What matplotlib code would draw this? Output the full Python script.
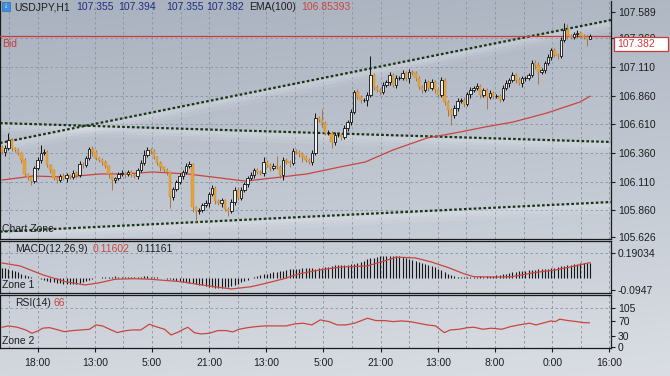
import matplotlib.pyplot as plt
import matplotlib.transforms as mtransforms
from matplotlib.patches import Rectangle
import numpy as np

plt.rcParams['font.family'] = ['Liberation Sans', 'DejaVu Sans']

# ---- data ----
first_open = 106.41
closes = [
    106.367, 106.402, 106.472, 106.402, 106.385, 106.359, 106.298, 106.175, 106.149, 106.114,
    106.228, 106.298, 106.359, 106.367, 106.254, 106.210, 106.140, 106.123, 106.158, 106.140,
    106.167, 106.149, 106.184, 106.167, 106.263, 106.254, 106.315, 106.394, 106.367, 106.315,
    106.298, 106.280, 106.245, 106.175, 106.123, 106.140, 106.175, 106.184, 106.175, 106.193,
    106.167, 106.158, 106.210, 106.271, 106.341, 106.385, 106.376, 106.324, 106.271, 106.236,
    106.210, 106.193, 105.975, 106.044, 106.106, 106.158, 106.193, 106.245, 106.263, 105.887,
    105.853, 105.861, 105.905, 105.922, 106.001, 106.053, 105.940, 105.922, 105.949, 105.870,
    105.853, 105.931, 106.036, 105.966, 106.036, 106.088, 106.140, 106.167, 106.210, 106.193,
    106.184, 106.280, 106.254, 106.228, 106.245, 106.236, 106.167, 106.298, 106.280, 106.271,
    106.376, 106.367, 106.350, 106.324, 106.298, 106.280, 106.359, 106.664, 106.647, 106.620,
    106.533, 106.533, 106.455, 106.516, 106.516, 106.498, 106.577, 106.629, 106.716, 106.891,
    106.847, 106.821, 106.821, 106.865, 107.039, 106.935, 106.908, 106.891, 106.952, 106.978,
    107.039, 106.952, 107.013, 107.013, 107.057, 107.013, 107.065, 107.057, 107.013, 106.935,
    106.908, 106.978, 106.926, 106.978, 106.908, 106.865, 106.996, 106.804, 106.734, 106.690,
    106.751, 106.812, 106.821, 106.786, 106.873, 106.908, 106.926, 106.943, 106.865, 106.908,
    106.847, 106.882, 106.856, 106.856, 106.830, 106.926, 106.969, 106.996, 107.039, 106.996,
    106.969, 107.013, 107.013, 107.039, 107.144, 107.126, 107.065, 107.083, 107.144, 107.196,
    107.257, 107.214, 107.205, 107.345, 107.432, 107.380, 107.371, 107.397, 107.406, 107.380,
    107.371, 107.355, 107.382,
]
# wick lengths beyond the body, in hundredths of a yen
wick_up = [
    2, 3, 6, 2, 1, 2, 1, 2, 1, 1,
    2, 3, 7, 3, 2, 1, 1, 2, 2, 3,
    2, 1, 3, 2, 3, 2, 2, 2, 3, 2,
    1, 2, 2, 1, 2, 1, 2, 3, 2, 2,
    2, 2, 2, 3, 4, 3, 2, 2, 1, 2,
    1, 2, 1, 2, 2, 3, 2, 3, 3, 1,
    1, 2, 2, 3, 2, 3, 2, 2, 2, 1,
    2, 3, 3, 2, 3, 2, 2, 3, 2, 2,
    2, 4, 2, 2, 3, 9, 2, 3, 2, 2,
    3, 2, 2, 2, 2, 2, 3, 4, 2, 10,
    2, 3, 2, 3, 2, 2, 3, 2, 3, 2,
    3, 2, 2, 3, 17, 2, 2, 2, 3, 2,
    3, 2, 3, 2, 3, 2, 3, 2, 2, 2,
    2, 3, 2, 3, 2, 2, 3, 2, 2, 2,
    3, 3, 2, 3, 2, 3, 2, 3, 2, 2,
    2, 3, 2, 2, 2, 3, 3, 2, 3, 2,
    3, 2, 2, 2, 3, 3, 3, 2, 2, 3,
    2, 2, 2, 3, 6, 5, 2, 2, 3, 2,
    2, 2, 1.2,
]
wick_dn = [
    2, 3, 2, 3, 2, 2, 3, 2, 3, 3,
    2, 2, 3, 2, 2, 3, 2, 3, 2, 2,
    3, 2, 2, 3, 2, 3, 2, 2, 3, 2,
    2, 3, 2, 3, 9, 3, 2, 2, 3, 2,
    2, 2, 3, 2, 2, 2, 3, 2, 2, 3,
    2, 3, 10, 3, 2, 2, 3, 2, 2, 4,
    10, 3, 2, 2, 3, 2, 3, 2, 3, 2,
    4, 2, 3, 2, 2, 2, 3, 2, 3, 2,
    2, 3, 2, 3, 2, 2, 3, 4, 2, 3,
    2, 2, 3, 4, 2, 2, 3, 2, 2, 3,
    2, 2, 5, 3, 2, 3, 2, 3, 3, 2,
    2, 3, 2, 5, 2, 3, 2, 3, 2, 2,
    3, 2, 3, 2, 2, 3, 4, 2, 3, 2,
    3, 2, 3, 2, 3, 2, 2, 3, 5, 9,
    3, 3, 2, 3, 2, 3, 2, 2, 3, 2,
    10, 2, 3, 2, 3, 2, 2, 3, 2, 3,
    2, 3, 3, 2, 2, 3, 10, 2, 3, 2,
    3, 2, 3, 2, 2, 3, 2, 2, 3, 2,
    2, 6, 0,
]

ema_bar = [0, 9.6, 20, 30.3, 38, 46.7, 57.3, 67.5, 75.2, 83.9, 94.4, 104.6, 112.4,
           121, 131.6, 141.8, 149.5, 158.2, 168.7, 178.9, 182]
ema_val = [106.123, 106.158, 106.149, 106.176, 106.176, 106.193, 106.176, 106.141, 106.114,
           106.141, 106.176, 106.237, 106.280, 106.385, 106.490, 106.542, 106.586, 106.629,
           106.708, 106.804, 106.854]

bid_price = 107.382

# trend lines: price at left edge and at right edge of the chart
trend_left = [106.446, 106.620, 105.673]
trend_right = [107.519, 106.455, 105.931]

macd_hist = [
    0.075, 0.072, 0.065, 0.058, 0.05, 0.04, 0.03, 0.02,
    0.012, 0.006, 0.0, -0.005, -0.01, -0.018,
    -0.024, -0.03, -0.035, -0.04, -0.044, -0.048, -0.05, -0.052, -0.05, -0.046, -0.04,
    -0.034, -0.026, -0.018, -0.012,
    -0.006, -0.002, 0.002, 0.005, 0.006, 0.008, 0.009, 0.008, 0.006, 0.004, 0.003, 0.002,
    0.004, 0.006, 0.008, 0.01, 0.009, 0.008, 0.006,
    0.004, 0.0, -0.004, -0.008, -0.013, -0.018, -0.022,
    -0.026, -0.03, -0.034, -0.038, -0.043, -0.048, -0.053, -0.058, -0.063, -0.068, -0.072,
    -0.076, -0.078, -0.078, -0.075, -0.07, -0.062, -0.054, -0.045,
    -0.035, -0.025, -0.015, -0.006, 0.003,
    0.01, 0.018, 0.025, 0.03, 0.035, 0.04, 0.045, 0.05, 0.055, 0.06, 0.064, 0.068, 0.07,
    0.07, 0.074, 0.071, 0.075, 0.073, 0.07, 0.074, 0.076,
    0.08, 0.085, 0.09, 0.096, 0.095, 0.1, 0.1, 0.098, 0.102, 0.106, 0.11,
    0.12, 0.13, 0.14, 0.148, 0.155, 0.16, 0.164, 0.166,
    0.168, 0.17, 0.167, 0.17, 0.166,
    0.16, 0.152, 0.144, 0.136, 0.128, 0.122, 0.116, 0.108,
    0.1, 0.09, 0.08, 0.07, 0.058, 0.045, 0.032, 0.02,
    0.012, 0.007, 0.005, 0.004, 0.003,
    0.004, 0.005, 0.007, 0.009, 0.008, 0.01, 0.013, 0.016, 0.02, 0.022, 0.026, 0.03, 0.035,
    0.04, 0.044, 0.048, 0.05, 0.054, 0.058, 0.056, 0.06, 0.064, 0.068, 0.066, 0.07, 0.074, 0.078,
    0.082, 0.086, 0.09, 0.094, 0.098, 0.104, 0.108, 0.11, 0.113, 0.11, 0.112,
]
sig_bar = [0, 5.6, 12.7, 19.5, 25.7, 30, 35, 41, 45.8, 55, 63, 71, 77, 81.4, 87, 92, 98.5,
           105, 113, 118.6, 122, 127.9, 133, 138.4, 143, 146, 152.6, 158, 165, 171.5, 177.4, 182]
sig_val = [0.113, 0.09, 0.021, -0.03, -0.056, -0.04, -0.012, -0.008, -0.012, -0.03, -0.06,
           -0.087, -0.07, -0.045, -0.01, 0.03, 0.06, 0.082, 0.09, 0.13, 0.158, 0.152, 0.12,
           0.075, 0.03, 0.008, 0.004, 0.008, 0.04, 0.06, 0.09, 0.116]

rsi_bar = [0, 2.0, 4.7, 7.3, 9.3, 11.3, 12.6, 14.6, 16.6, 19.2, 21.9, 24.5, 27.1, 29.1, 31.1,
           33.8, 35.7, 37.7, 40.4, 43, 45.6, 47.6, 50.3, 52.3, 54.2, 56.2, 57.5, 59.5, 61.5,
           64.2, 66.8, 69.4, 71.4, 73.4, 76.1, 78.7, 81.3, 84, 88, 90.6, 93.2, 95.9, 98.5,
           101.2, 103.8, 106.5, 109.1, 111.8, 113.1, 115.7, 118.4, 121, 123.6, 126.3, 128.9,
           131.6, 134.2, 136.9, 138.8, 141.5, 144.1, 146.1, 148.8, 151.4, 154.7, 157.4, 160,
           163.3, 165.3, 167.3, 169.9, 171.3, 172.6, 175.2, 177.9, 179.9, 181.8]
rsi_val = [54, 57.6, 54, 46.8, 37.8, 45, 51.4, 53, 48.6, 42.2, 45, 46.8, 48.6, 60.3, 57.6,
           46.8, 39.5, 44, 46.8, 46.8, 62.2, 55.7, 48.6, 33.2, 39.5, 48.6, 54, 39.5, 36,
           37.8, 45, 45, 41.4, 48.6, 53, 55.7, 57.6, 57.6, 57.6, 63, 64.9, 60.3, 73.8,
           69.2, 60.3, 60.3, 64.9, 73.8, 78.4, 72, 72, 69.2, 71, 69.2, 64.9,
           60.3, 57.6, 39.5, 46.8, 48.6, 53, 54, 48.6, 51.4, 48.6, 55.7, 60.3,
           64.9, 60.3, 64.9, 71, 69.2, 75.7, 72, 69.2, 66.5, 66]

time_labels = ["18:00", "13:00", "5:00", "21:00", "13:00", "5:00", "21:00", "13:00",
               "8:00", "0:00", "16:00"]
price_ticks = [105.626, 105.86, 106.11, 106.36, 106.61, 106.86, 107.11, 107.36, 107.589]

# ---- figure ----
W, H = 670, 376
fig = plt.figure(figsize=(W / 100, H / 100), dpi=100)


def box(x0, y0, x1, y1):
    return [x0 / W, 1 - y1 / H, (x1 - x0) / W, (y1 - y0) / H]


def ftext(x, y, s, color='#1e1e1e', **kw):
    fig.text(x / W, 1 - y / H, s, color=color, fontsize=7.5, va='center', ha='left', **kw)


# background gradient
bg = fig.add_axes([0, 0, 1, 1], zorder=-10)
gv = np.linspace(0, 1, H)[:, None]
gh = np.linspace(0, 1, W)[None, :]
top = np.array([168, 177, 190]) / 255
bot = np.array([218, 222, 228]) / 255
img = top + (bot - top) * (0.85 * gv + 0.15 * gh)[..., None]
bg.imshow(img, aspect='auto', extent=[0, 1, 0, 1])
bg.axis('off')

ax = fig.add_axes(box(0, 1, 611, 239))
mx = fig.add_axes(box(0, 241, 611, 293))
rx = fig.add_axes(box(0, 295, 611, 348))

xmin, xmax = -0.62, 188.5
xt0, xstep = 11.0, 17.7
grid_kw = dict(color='#8793a3', lw=0.6, ls=(0, (3, 3)), zorder=1)

for a in (ax, mx, rx):
    a.set_facecolor('none')
    a.set_xlim(xmin, xmax)
    for s in a.spines.values():
        s.set_color('#1a1a1a')
        s.set_linewidth(0.9)
    a.yaxis.tick_right()
    a.tick_params(axis='y', direction='out', length=3, width=0.8, pad=2,
                  labelsize=7.5, colors='#1e1e1e')
    a.tick_params(axis='x', bottom=False, labelbottom=False)
    gx = xt0 - xstep / 2
    while gx < xmax:
        a.axvline(gx, **grid_kw)
        gx += xstep / 2
ax.spines['top'].set_visible(False)

# ---- main price panel ----
ax.set_ylim(105.6085, 107.685)
ax.set_yticks(price_ticks)
ax.set_yticklabels([f"{v:.3f}" for v in price_ticks])
for v in price_ticks[1:-1]:
    ax.axhline(v, **grid_kw)

n = len(closes)
x = np.arange(n)
c = np.array(closes)
o = np.concatenate([[first_open], c[:-1]])
hi = np.maximum(o, c) + np.array(wick_up) / 100
lo = np.minimum(o, c) - np.array(wick_dn) / 100
up = c >= o
dn = ~up

# trend lines with a soft light shadow underneath
for dy, lw, al in ((-5, 9, 0.07), (-4, 5, 0.10), (-3, 2.5, 0.10)):
    shadow = mtransforms.offset_copy(ax.transData, fig=fig, x=0, y=dy, units='dots')
    for pl, pr in zip(trend_left, trend_right):
        ax.plot([xmin, xmax], [pl, pr], color='white', lw=lw, alpha=al,
                transform=shadow, zorder=2, solid_capstyle='butt')
for pl, pr in zip(trend_left, trend_right):
    ax.plot([xmin, xmax], [pl, pr], color='#173517', lw=1.6, ls=(0, (1.2, 1.0)), zorder=2.5)

ax.plot(ema_bar, ema_val, color='#c8463f', lw=0.9, zorder=2.6)
ax.axhline(bid_price, color='#cc3b3b', lw=0.9, zorder=2.7)

ax.vlines(x[dn], lo[dn], hi[dn], color='#a87645', lw=0.7, zorder=3)
ax.vlines(x[up], lo[up], hi[up], color='#111111', lw=0.7, zorder=3)
ax.bar(x[dn], (o - c)[dn], bottom=c[dn], width=0.75, color='#e6a23a',
       edgecolor='#cf8b2a', linewidth=0.3, zorder=4)
ax.bar(x[up], np.maximum(c - o, 0.004)[up], bottom=o[up], width=0.75, color='#f1f1f1',
       edgecolor='#111111', linewidth=0.6, zorder=4)

# ---- MACD panel ----
mx.set_ylim(-0.118, 0.282)
mx.set_yticks([0.19034, -0.0947])
mx.set_yticklabels(["0.19034", "-0.0947"])
mx.axhline(0.19034, **grid_kw)
mx.vlines(np.arange(len(macd_hist)), 0, macd_hist, color='#151515', lw=0.8, zorder=3)
mx.plot(sig_bar, sig_val, color='#c8463f', lw=0.9, zorder=4)

# ---- RSI panel ----
rx.set_ylim(-2, 141)
rx.set_yticks([105, 70, 30, 0])
rx.set_yticklabels(["105", "70", "30", "0"])
rx.axhline(105, **grid_kw)
rx.plot(rsi_bar, rsi_val, color='#c8463f', lw=0.9, zorder=4)
rx.set_xticks([xt0 + k * xstep for k in range(len(time_labels))])
rx.set_xticklabels(time_labels)
rx.tick_params(axis='x', bottom=True, labelbottom=True, direction='out', length=3,
               width=0.8, pad=4, labelsize=7.5, colors='#1e1e1e')

# ---- header and labels ----
fig.add_artist(Rectangle((2 / W, 1 - 11 / H), 8 / W, 9 / H, transform=fig.transFigure,
                         facecolor='#3d8fe0', edgecolor='#2a6fb8', lw=0.5, zorder=5))
fig.text(6 / W, 1 - 6.5 / H, "↓", color='white', fontsize=6, ha='center', va='center',
         fontweight='bold', zorder=6)
ftext(14, 7.5, "USDJPY,H1")
ftext(76, 7.5, "107.355", color='#1f2d80')
ftext(118, 7.5, "107.394", color='#1f2d80')
ftext(166, 7.5, "107.355", color='#1f2d80')
ftext(206, 7.5, "107.382", color='#1f2d80')
ftext(249, 7.5, "EMA(100)")
ftext(301, 7.5, "106.85393", color='#c8463f')
ftext(2, 44, "Bid", color='#cc3b3b')
ftext(2, 229, "Chart Zone")
ftext(15, 249, "MACD(12,26,9)")
ftext(93, 249, "0.11602", color='#c8463f')
ftext(137, 249, "0.11161")
ftext(2, 285, "Zone 1")
ftext(15, 303, "RSI(14)")
ftext(53, 303, "66", color='#c8463f')
ftext(2, 341, "Zone 2")

fig.add_artist(Rectangle((614 / W, 1 - 51 / H), 54 / W, 14 / H, transform=fig.transFigure,
                         facecolor='white', edgecolor='#cc3b3b', lw=0.9, zorder=5))
fig.text(617 / W, 1 - 44 / H, f"{bid_price:.3f}", color='#cc3b3b', fontsize=7.5,
         va='center', ha='left', zorder=6)

fig.savefig("out.png", dpi=100)
